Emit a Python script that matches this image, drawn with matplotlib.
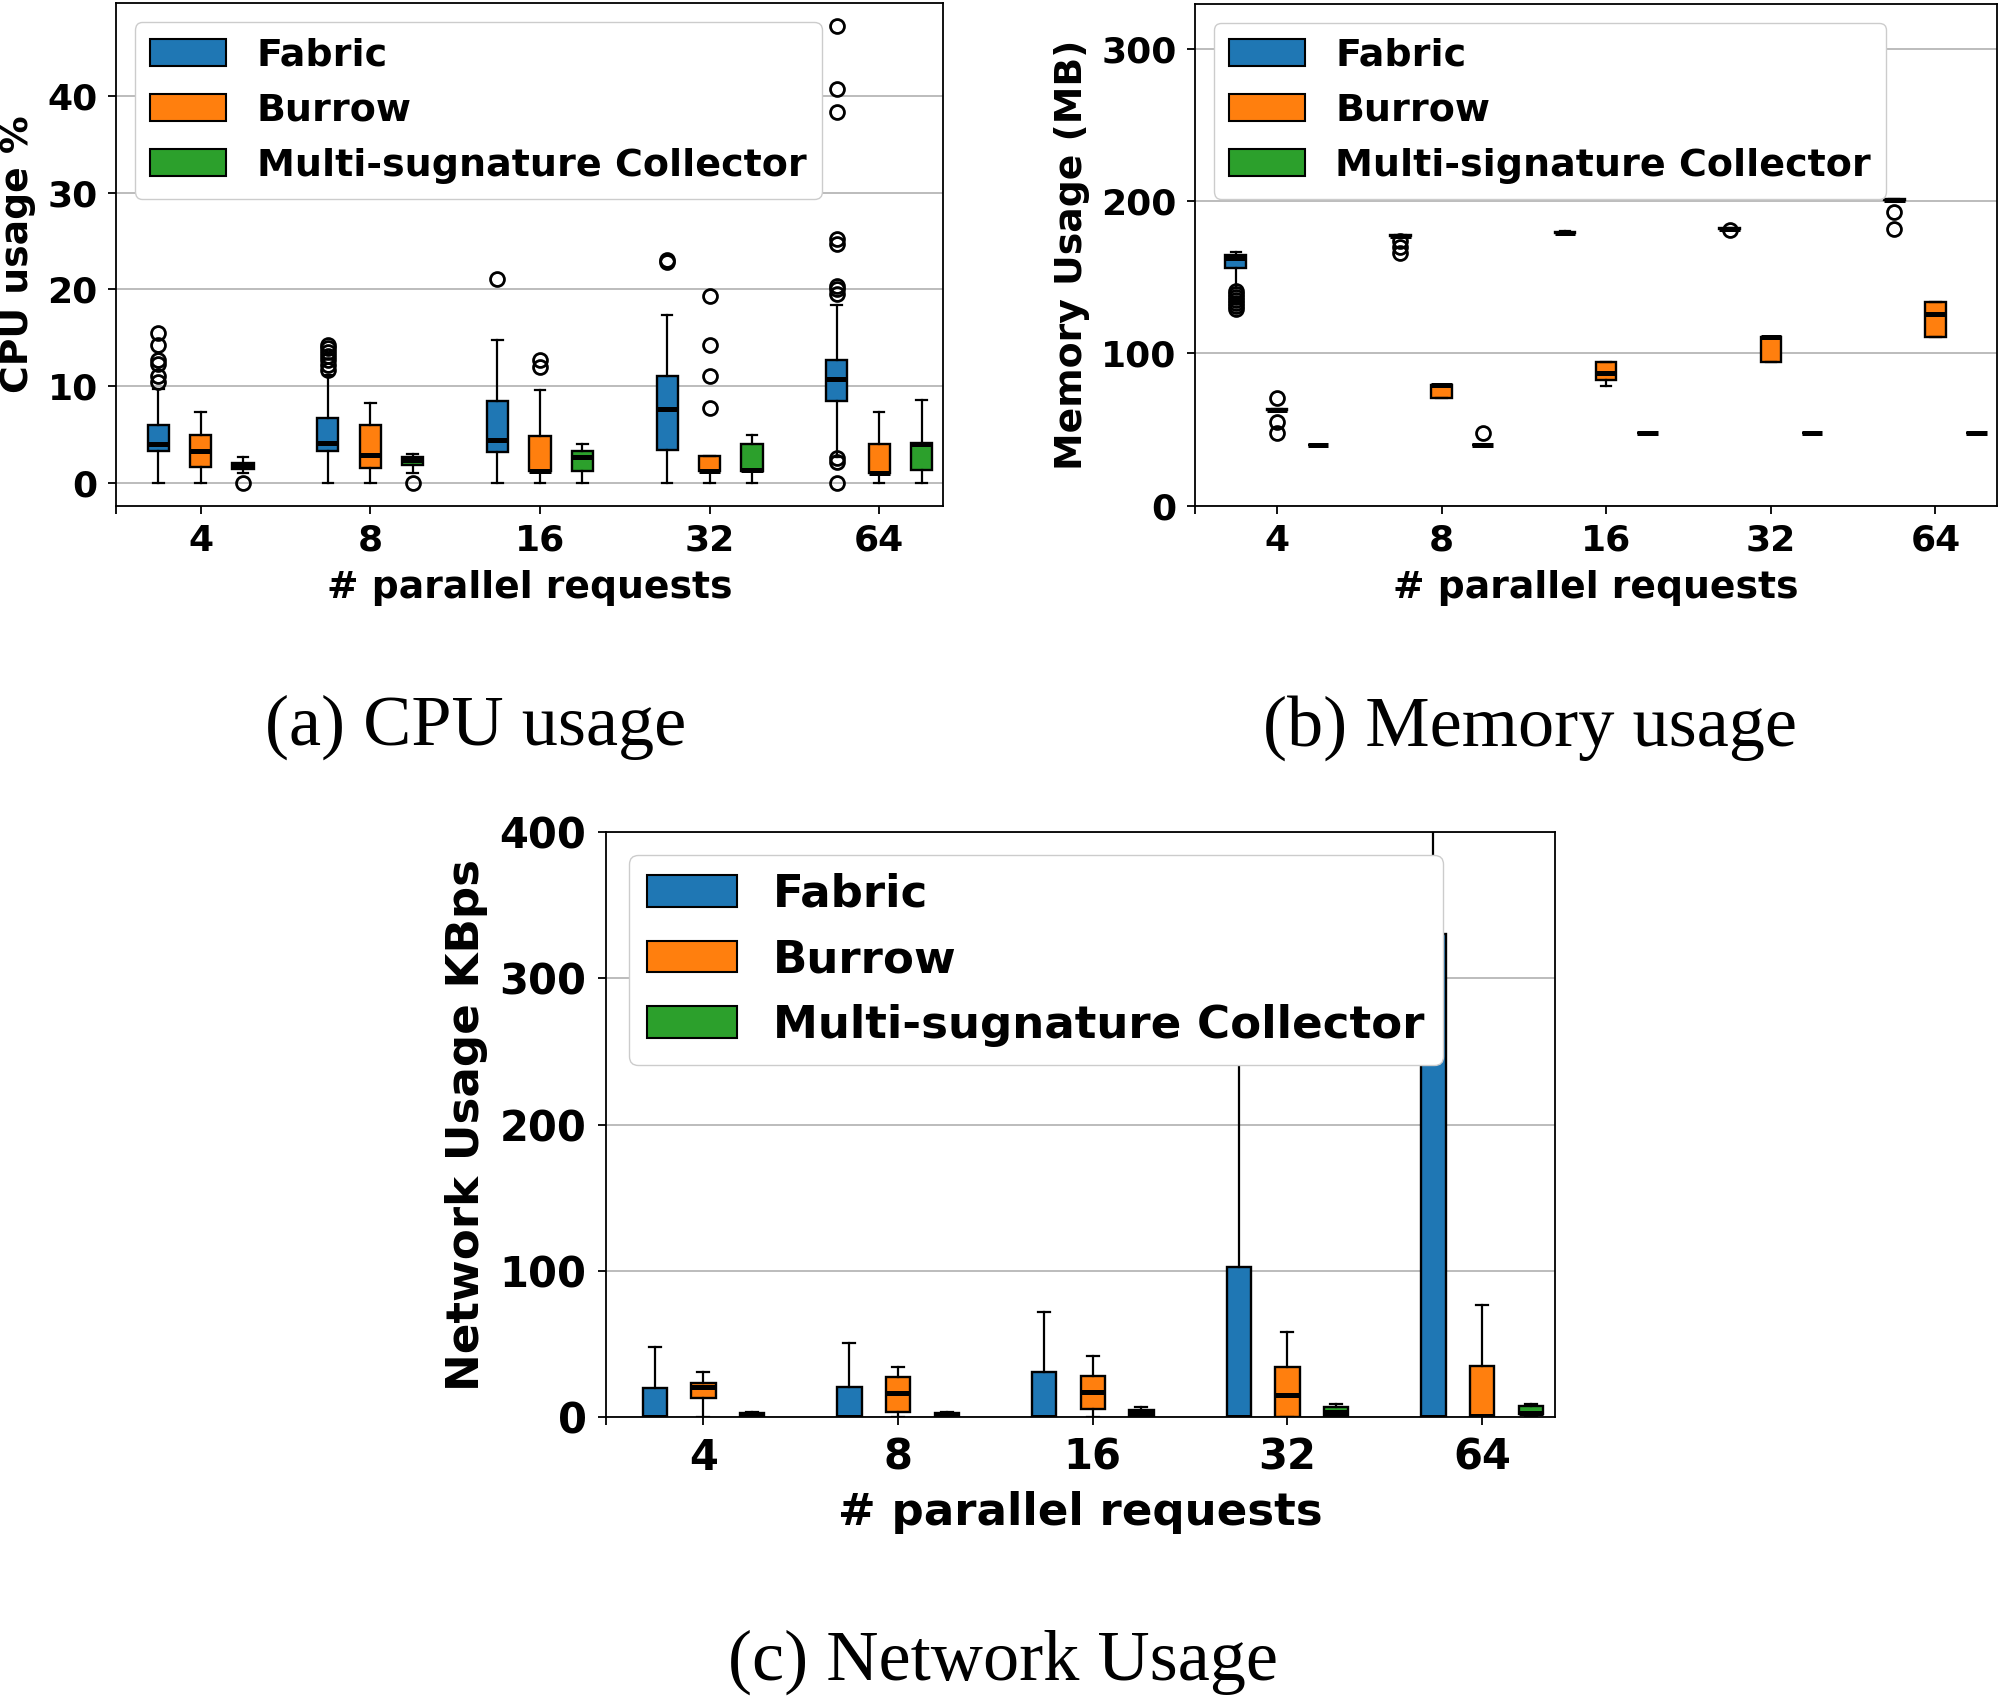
import matplotlib
matplotlib.use('Agg')
import matplotlib.pyplot as plt
from matplotlib.patches import Patch

groups = ['4', '8', '16', '32', '64']
colors = ['#1f77b4', '#ff7f0e', '#2ca02c']
names_a = ['Fabric', 'Burrow', 'Multi-sugnature Collector']
names_b = ['Fabric', 'Burrow', 'Multi-signature Collector']

# box stats per group: [whislo, q1, med, q3, whishi]
cpu_fabric = [[0, 3.3, 4.0, 6.0, 9.7], [0, 3.3, 4.1, 6.7, 11.2], [0, 3.2, 4.4, 8.5, 14.8],
              [0, 3.4, 7.6, 11.0, 17.4], [2.7, 8.5, 10.7, 12.7, 18.4]]
cpu_fabric_out = [[10.4, 11.1, 12.3, 12.7, 14.3, 15.5], [11.7, 12.2, 12.7, 13.1, 13.5, 13.9, 14.3],
                  [21.1], [22.8, 23.0], [0.0, 2.2, 2.6, 19.5, 20.0, 20.4, 24.7, 25.2, 38.3, 40.7, 47.2]]
cpu_burrow = [[0, 1.6, 3.3, 5.0, 7.3], [0, 1.5, 2.9, 6.0, 8.3], [0, 1.25, 1.25, 4.8, 9.6],
              [0, 1.25, 1.25, 2.8, 2.8], [0, 1.05, 1.05, 4.0, 7.3]]
cpu_burrow_out = [[], [], [12.0, 12.7], [7.7, 11.0, 14.3, 19.3], []]
cpu_multi = [[1.0, 1.45, 1.7, 2.1, 2.7], [1.0, 1.9, 2.35, 2.7, 3.0], [0, 1.25, 2.7, 3.3, 4.0],
             [0, 1.25, 1.3, 4.0, 5.0], [0, 1.3, 4.0, 4.1, 8.6]]
cpu_multi_out = [[0.0], [0.0], [], [], []]

mem_fabric = [[143, 156, 163, 164.5, 166.5], [177.5, 177.5, 177.5, 177.8, 178],
              [179.3, 179.3, 179.5, 180, 180.5], [181.8, 182, 182, 182.3, 182.5],
              [200.5, 201, 201, 201.3, 201.5]]
mem_fabric_out = [[129, 131, 133, 135, 137, 139, 141], [166, 170, 174], [], [181], [182, 193]]
mem_burrow = [[63, 63, 63, 63.5, 63.5], [70.4, 70.4, 79, 79, 79], [78.5, 82.5, 87, 94.5, 94.5],
              [94.5, 94.5, 111, 111, 111], [110.5, 110.5, 126, 134, 134]]
mem_burrow_out = [[47.5, 55, 71], [], [], [], []]
mem_multi = [[39.5, 39.5, 39.5, 39.5, 39.5], [39.5, 39.5, 39.5, 39.5, 39.5],
             [47.5, 47.5, 47.5, 47.5, 47.5], [47.5, 47.5, 47.5, 47.5, 47.5],
             [47.5, 47.5, 47.5, 47.5, 47.5]]
mem_multi_out = [[], [47.5], [], [], []]

net_fabric = [[0, 0, 0, 20, 48], [0, 0, 0, 21, 51], [0, 0, 0, 31, 72],
              [0, 0, 0, 102.5, 300], [0, 0, 0, 330, 450]]
net_burrow = [[0, 13, 20.5, 23.4, 30.7], [0, 3.9, 16.8, 27.8, 34.4], [0, 5.4, 17, 28.5, 42],
              [0, 0, 15.2, 34.6, 58.5], [0, 0.8, 0.8, 35.1, 76.5]]
net_multi = [[0, 1, 2, 3, 3.8], [0, 1, 2, 3, 3.5], [0, 1, 3, 5, 7.3],
             [0, 1, 3.5, 6.8, 9], [0, 2.2, 3.2, 8, 9.2]]
no_out = [[], [], [], [], []]

plt.rcParams['font.family'] = 'DejaVu Sans'
plt.rcParams['font.weight'] = 'bold'

fig = plt.figure(figsize=(20, 17), dpi=100)


def draw_panel(ax, boxes, outs, names, ylabel, ylim, yticks, fs_tick, fs_text, fs_leg, pad, lpad):
    offsets = [-0.25, 0, 0.25]
    for i in range(3):
        stats = []
        for b, f in zip(boxes[i], outs[i]):
            stats.append(dict(whislo=b[0], q1=b[1], med=b[2], q3=b[3], whishi=b[4], fliers=f))
        pos = [k + 1 + offsets[i] for k in range(len(groups))]
        ax.bxp(stats, positions=pos, widths=0.125, patch_artist=True, manage_ticks=False,
               boxprops=dict(facecolor=colors[i], edgecolor='black', linewidth=1.7),
               medianprops=dict(color='black', linewidth=3.6),
               whiskerprops=dict(color='black', linewidth=1.6),
               capprops=dict(color='black', linewidth=1.6),
               flierprops=dict(marker='o', markerfacecolor='none', markeredgecolor='black',
                               markersize=10, markeredgewidth=2.0))
    ax.set_xlim(0.5, 5.375)
    ax.set_ylim(*ylim)
    ax.set_xticks([0.5] + [k + 1 for k in range(len(groups))], [''] + groups)
    ax.set_yticks(yticks)
    ax.tick_params(labelsize=fs_tick, length=6, width=1.3, pad=pad)
    ax.yaxis.grid(True, color='#b0b0b0', linewidth=1.2)
    ax.set_axisbelow(True)
    for s in ax.spines.values():
        s.set_linewidth(1.3)
    ax.set_xlabel('# parallel requests', fontsize=fs_text, fontweight='bold', labelpad=lpad)
    ax.set_ylabel(ylabel, fontsize=fs_text, fontweight='bold', labelpad=lpad - 1)
    handles = [Patch(facecolor=c, edgecolor='black', linewidth=1.5) for c in colors]
    ax.legend(handles, names, loc='upper left', fontsize=fs_leg, framealpha=1)


ax1 = fig.add_axes([0.0579, 0.7025, 0.4135, 0.2955])
draw_panel(ax1, [cpu_fabric, cpu_burrow, cpu_multi], [cpu_fabric_out, cpu_burrow_out, cpu_multi_out],
           names_a, 'CPU usage %', (-2.36, 49.56), [0, 10, 20, 30, 40], 26, 27.2, 27.4, 7, 9)

ax2 = fig.add_axes([0.5973, 0.7026, 0.4013, 0.2953])
draw_panel(ax2, [mem_fabric, mem_burrow, mem_multi], [mem_fabric_out, mem_burrow_out, mem_multi_out],
           names_b, 'Memory Usage (MB)', (0, 330), [0, 100, 200, 300], 26, 27.2, 27.4, 7, 9)

ax3 = fig.add_axes([0.303, 0.1663, 0.4745, 0.3443])
draw_panel(ax3, [net_fabric, net_burrow, net_multi], [no_out, no_out, no_out],
           names_a, 'Network Usage KBps', (0, 400), [0, 100, 200, 300, 400], 30, 32.5, 32.5, 8, 9)

cap_font = dict(family='Liberation Serif', fontsize=52, fontweight='normal', ha='center', va='center')
fig.text(0.238, 0.572, '(a) CPU usage', **cap_font)
fig.text(0.765, 0.572, '(b) Memory usage', **cap_font)
fig.text(0.5015, 0.022, '(c) Network Usage', **cap_font)

fig.savefig('out.png', dpi=100)
